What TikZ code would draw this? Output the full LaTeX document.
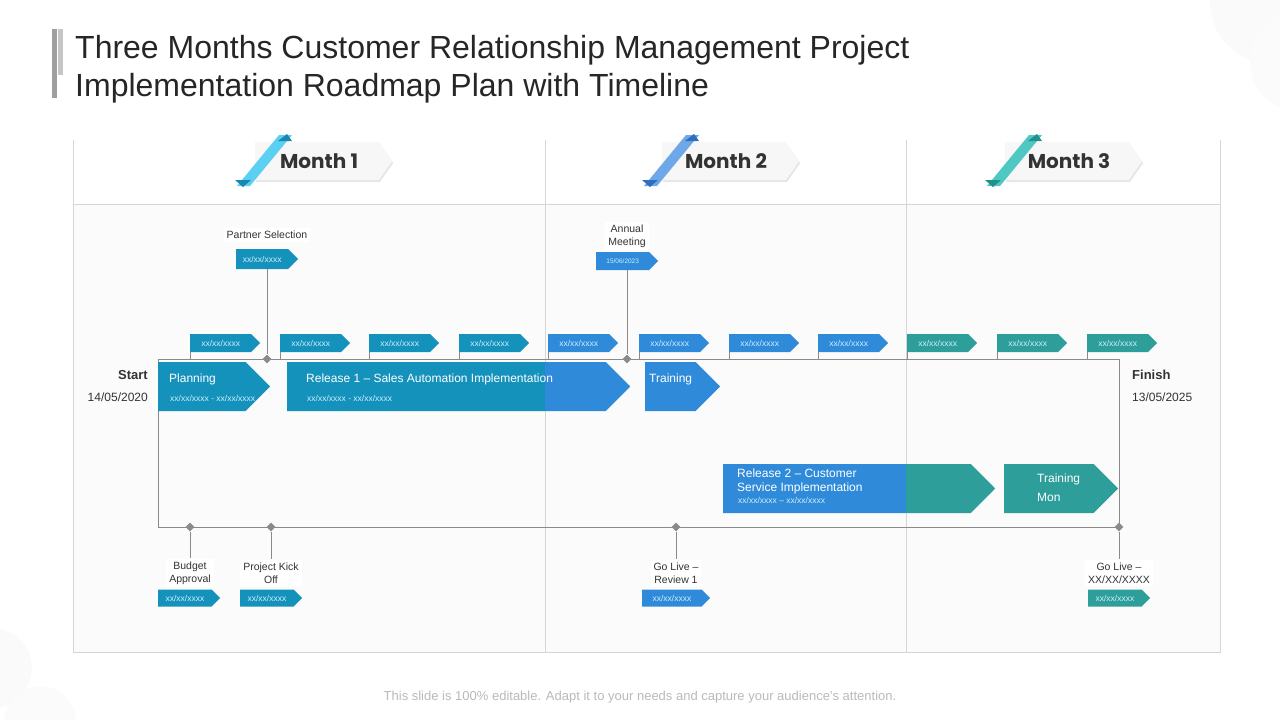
\documentclass[tikz,border=0pt]{standalone}
\usepackage{fontspec}
\setmainfont{Liberation Sans}
\newfontfamily\monthfont{Poppins}
\usetikzlibrary{shapes,shapes.geometric,shapes.symbols,positioning,shadows}

\definecolor{tealblue}{HTML}{1592BB}
\definecolor{skyblue}{HTML}{2F8BDA}
\definecolor{seateal}{HTML}{2E9E9B}
\definecolor{linegray}{HTML}{8A8A8A}
\definecolor{framegray}{HTML}{D6D6D6}
\definecolor{txtgray}{HTML}{333333}
\definecolor{ribA}{HTML}{5CD0F2}
\definecolor{ribAd}{HTML}{1B87AE}
\definecolor{ribB}{HTML}{6FA8E8}
\definecolor{ribBd}{HTML}{2D6FB8}
\definecolor{ribC}{HTML}{4FC7C3}
\definecolor{ribCd}{HTML}{23908C}

\tikzset{
  datetag/.style={signal, signal to=east, signal pointer angle=90, minimum width=70, minimum height=18, inner sep=0, anchor=west, text=white!80!cyan, font=\fontsize{8.5}{9}\selectfont},
  phase/.style={signal, signal to=east, signal pointer angle=90, minimum height=49, inner sep=0, anchor=west},
  ptext/.style={anchor=west, inner sep=0, text=white, font=\fontsize{12}{14}\selectfont, align=left},
  psub/.style={anchor=west, inner sep=0, text=white!80!cyan, font=\fontsize{8.5}{9}\selectfont},
  mile/.style={diamond, fill=linegray, minimum size=9, inner sep=0},
  ml/.style={fill=white, align=center, text=txtgray, font=\fontsize{10.5}{13}\selectfont, inner sep=3},
  ln/.style={draw=linegray, line width=1},
  monthtag/.style={signal, signal to=east, signal pointer angle=110, minimum width=137, minimum height=38, inner sep=0, anchor=west, fill=gray!6, drop shadow={opacity=0.2, shadow xshift=1pt, shadow yshift=-2pt}, font=\monthfont\bfseries\fontsize{20}{22}\selectfont, text=txtgray},
}

\begin{document}
\begin{tikzpicture}[x=1pt, y=-1pt]
\useasboundingbox (0,0) rectangle (1280,720);

%corner circles
\fill[gray!4] (1272,2) circle (62);
\fill[gray!3] (1300,62) circle (50);
\fill[gray!4] (-8,668) circle (40);
\fill[gray!3] (40,722) circle (36);

%title
\fill[gray!75] (52,29) rectangle (57,98);
\fill[gray!45] (58,29) rectangle (63,75);
\node[anchor=north west, inner sep=0, align=left, text=black!85, font=\fontsize{32}{38}\selectfont] (title) at (75,35) {Three Months Customer Relationship Management Project\\Implementation Roadmap Plan with Timeline};

%frame
\fill[gray!3] (73,204) rectangle (1220,652);
\draw[framegray] (73,140) -- (73,652) -- (1220,652) -- (1220,140);
\draw[framegray] (73,204) -- (1220,204);
\draw[framegray] (545,140) -- (545,652);
\draw[framegray] (906,140) -- (906,652);

%months
\foreach \mx/\tx/\rc/\dc/\n in {235/255/ribA/ribAd/1, 642/662/ribB/ribBd/2, 985/1005/ribC/ribCd/3} {
  \node[monthtag] (month\n) at (\tx,161) {\hspace{4pt}Month \n\hspace{8pt}};
  \fill[\rc] (\mx+2,186) -- (\mx+15,186) -- (\mx+57,135) -- (\mx+44,135) -- cycle;
  \fill[\dc] (\mx,180) -- (\mx+16,180) -- (\mx+8,187) -- cycle;
  \fill[\dc] (\mx+43,141) -- (\mx+57,141) -- (\mx+52,134) -- cycle;
}

%timeline box
\coordinate (tl) at (158,359);
\coordinate (br) at (1119,527);
\draw[ln] (tl) rectangle (br);

%top date tags
\foreach \i/\x/\c in {1/190/tealblue, 2/280/tealblue, 3/369/tealblue, 4/459/tealblue, 5/548/skyblue, 6/639/skyblue, 7/729/skyblue, 8/818/skyblue, 9/907/seateal, 10/997/seateal, 11/1087/seateal} {
  \node[datetag, fill=\c] (top\i) at (\x,343) {xx/xx/xxxx};
  \draw[ln] (top\i.south west) -- (top\i.south west |- tl);
}

%milestones above
\node[ml] (pselL) at (267,235) {Partner Selection};
\node[datetag, fill=tealblue, minimum width=62, minimum height=20] (psel) at (236,259) {xx/xx/xxxx};
\node[mile] (m1) at (267,359) {};
\draw[ln] (m1 |- psel.south) -- (m1);

\node[ml] (ameetL) at (627,236) {Annual\\Meeting};
\node[datetag, fill=skyblue, minimum width=62, minimum height=18, font=\fontsize{6.5}{7}\selectfont] (ameet) at (596,261) {15/06/2023};
\node[mile] (m2) at (627,359) {};
\draw[ln] (m2 |- ameet.south) -- (m2);

%milestones below
\node[mile] (b1) at (190,527) {};
\node[mile] (b2) at (271,527) {};
\node[mile] (b3) at (676,527) {};
\node[mile] (b4) at (1119,527) {};

\node[ml] (bl1) at (190,573) {Budget\\Approval};
\node[ml] (bl2) at (271,573) {Project Kick\\Off};
\node[ml] (bl3) at (676,573) {Go Live --\\Review 1};
\node[ml] (bl4) at (1119,573) {Go Live --\\XX/XX/XXXX};

\foreach \i in {1,...,4} \draw[ln] (b\i) -- (bl\i);

\node[datetag, fill=tealblue, minimum width=62, minimum height=17] (bt1) at (158,598) {xx/xx/xxxx};
\node[datetag, fill=tealblue, minimum width=62, minimum height=17] (bt2) at (240,598) {xx/xx/xxxx};
\node[datetag, fill=skyblue, minimum width=68, minimum height=17] (bt3) at (642,598) {xx/xx/xxxx};
\node[datetag, fill=seateal, minimum width=62, minimum height=17] (bt4) at (1088,598) {xx/xx/xxxx};

%start and finish
\node[anchor=east, inner sep=0, text=txtgray, font=\bfseries\fontsize{13}{15}\selectfont] (start) at (148,375) {Start};
\node[anchor=east, inner sep=0, text=txtgray, font=\fontsize{12}{14}\selectfont] (startD) at (148,397) {14/05/2020};
\node[anchor=west, inner sep=0, text=txtgray, font=\bfseries\fontsize{13}{15}\selectfont] (finish) at (1132,375) {Finish};
\node[anchor=west, inner sep=0, text=txtgray, font=\fontsize{12}{14}\selectfont] (finishD) at (1132,397) {13/05/2025};

%phases
\node[phase, fill=tealblue, minimum width=112] (plan) at (158,386.5) {};
\node[ptext] (planT) at (169,379) {Planning};
\node[psub] (planS) at (170,398) {xx/xx/xxxx - xx/xx/xxxx};

\node[phase, fill=tealblue, minimum width=343, path picture={\fill[skyblue] ([xshift=258pt]path picture bounding box.south west) rectangle (path picture bounding box.north east);}] (rel1) at (287,386.5) {};
\node[ptext] (rel1T) at (306,379) {Release 1 -- Sales Automation Implementation};
\node[psub] (rel1S) at (307,398) {xx/xx/xxxx - xx/xx/xxxx};

\node[phase, fill=skyblue, minimum width=75] (train1) at (645,386.5) {};
\node[ptext] (train1T) at (649,379) {Training};

\node[phase, fill=skyblue, minimum width=272, path picture={\fill[seateal] ([xshift=183pt]path picture bounding box.south west) rectangle (path picture bounding box.north east);}] (rel2) at (723,488.5) {};
\node[ptext, font=\fontsize{12}{14}\selectfont] (rel2T) at (737,481) {Release 2 -- Customer\\Service Implementation};
\node[psub] (rel2S) at (738,500) {xx/xx/xxxx -- xx/xx/xxxx};

\node[phase, fill=seateal, minimum width=114] (train2) at (1004,488.5) {};
\node[ptext, font=\fontsize{12}{19}\selectfont] (train2T) at (1037,487.5) {Training\\Mon};

%footer
\node[text=gray!55, font=\fontsize{13}{15}\selectfont] (foot) at (640,697) {This slide is 100\% editable. Adapt it to your needs and capture your audience's attention.};

\end{tikzpicture}
\end{document}
